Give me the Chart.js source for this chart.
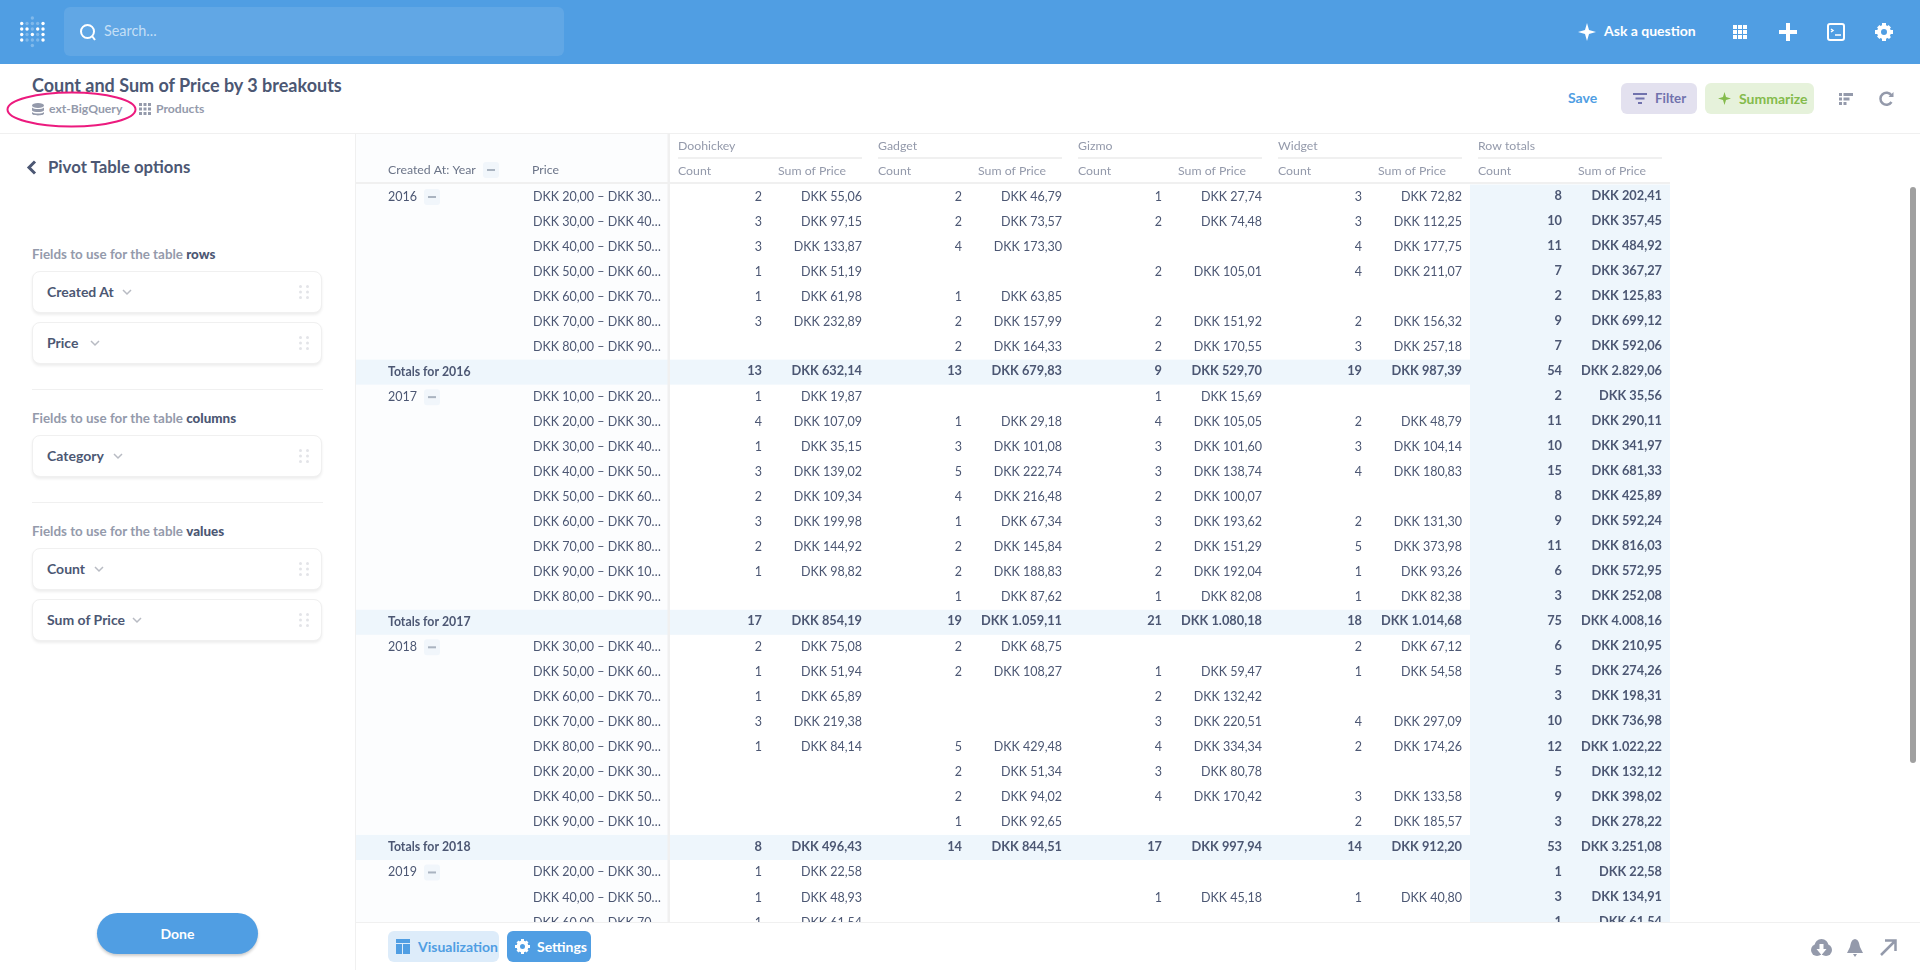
<!DOCTYPE html>
<html>
<head>
<meta charset="utf-8"/>
<title>Count and Sum of Price by 3 breakouts</title>
<script src="https://cdn.jsdelivr.net/npm/chart.js@4"></script>
<style>
  html,body{margin:0;width:1920px;height:970px;overflow:hidden;background:#fff;font-family:Lato,sans-serif;color:#4C5773}
  .a{position:absolute;white-space:nowrap}
  .line{position:absolute;background:#F0F0F0}
  .card{position:absolute;left:32px;width:290px;height:42px;box-sizing:border-box;background:#fff;border:1px solid #F0F0F0;border-radius:8px;box-shadow:0 2px 3px rgba(0,0,0,.07)}
  .card b{position:absolute;left:14px;top:0;line-height:40px;font-size:14px;font-weight:700}
  .lbl{left:32px;font-size:13.4px;font-weight:700;color:#949AAB;line-height:18px}
  .lbl b{color:#4C5773}
  .btn{position:absolute;border-radius:6px;line-height:31px;font-size:14px;font-weight:700}
  svg{position:absolute;overflow:visible}
</style>
</head>
<body>
<div class="a" style="left:0;top:0;width:1920px;height:64px;background:#509EE3"></div>
<svg id="logo" style="left:0;top:0" width="64" height="64"></svg>
<div class="a" style="left:64px;top:7px;width:500px;height:49px;background:#61A7E5;border-radius:6px"></div>
<svg style="left:80px;top:24px" width="16" height="18" fill="none" stroke="#fff" stroke-width="2"><circle cx="7.5" cy="7.5" r="6.5"/><path d="M12 12l3 4"/></svg>
<div class="a" style="left:104px;top:22px;font-size:14.4px;line-height:18px;font-weight:400;color:#C4DFF6">Search...</div>
<svg style="left:1578px;top:23px" width="18" height="18" fill="#fff"><path d="M9 0l2 7 7 2-7 2-2 7-2-7-7-2 7-2z"/></svg>
<div class="a" style="left:1604px;top:22px;font-size:14px;line-height:18px;font-weight:700;color:#fff">Ask a question</div>
<svg style="left:1733px;top:25px" width="14" height="14" fill="#fff"><path d="M0 0h4v4H0zM5 0h4v4H5zM10 0h4v4h-4zM0 5h4v4H0zM5 5h4v4H5zM10 5h4v4h-4zM0 10h4v4H0zM5 10h4v4h-4zM10 10h4v4h-4z"/></svg>
<svg style="left:1779px;top:23px" width="18" height="18" fill="#fff"><path d="M7 0h4v7h7v4h-7v7H7v-7H0V7h7z"/></svg>
<svg style="left:1827px;top:23px" width="18" height="18" fill="none" stroke="#fff" stroke-width="2"><rect x="1" y="1" width="16" height="16" rx="2"/><path d="M4 6l2 1.5L4 9M8 12h6" stroke-width="1.5"/></svg>
<svg style="left:1875px;top:23px" width="18" height="18" fill="#fff"><circle cx="9" cy="9" r="5" fill="none" stroke="#fff" stroke-width="4"/><path d="M7 0h4v3H7zM7 15h4v3H7zM0 7h3v4H0zM15 7h3v4h-3zM2 4.500L4.500 2l2 2-2.500 2.500zM11.500 14l2-2.500 2.500 2.500-2 2zM2 13.500L4 11.500 6.500 14 4.500 16zM11.500 4l2-2 2.500 2.500-2 2z"/></svg>

<div class="a" style="left:32px;top:73px;font-size:18px;line-height:24px;font-weight:700" id="title">Count and Sum of Price by 3 breakouts</div>
<svg style="left:32px;top:103px" width="12" height="13" fill="#949AAB"><ellipse cx="6" cy="2.500" rx="6" ry="2.500"/><path d="M0 4.500c2 2 10 2 12 0v3c-2 2-10 2-12 0zM0 9c2 2 10 2 12 0v1.500c0 2.500-12 2.500-12 0z"/></svg>
<div class="a" style="left:49px;top:100px;font-size:12.2px;line-height:18px;font-weight:700;color:#949AAB">ext-BigQuery</div>
<svg style="left:139px;top:103px" width="12" height="12" fill="#949AAB"><path d="M0 0h3v3H0zM4.500 0h3v3h-3zM9 0h3v3H9zM0 4.500h3v3H0zM4.500 4.500h3v3h-3zM9 4.500h3v3H9zM0 9h3v3H0zM4.500 9h3v3h-3zM9 9h3v3H9z"/></svg>
<div class="a" style="left:156px;top:100px;font-size:12.2px;line-height:18px;font-weight:700;color:#949AAB">Products</div>
<svg style="left:0;top:0" width="200" height="140" fill="none"><ellipse cx="71.500" cy="109.500" rx="64" ry="17" stroke="#EC1A7E" stroke-width="2"/></svg>

<div class="a" style="left:1568px;top:89px;font-size:14px;line-height:18px;font-weight:700;color:#509EE3">Save</div>
<div class="btn" style="left:1621px;top:83px;width:76px;height:31px;background:#E3E1EF;color:#7172AD;font-size:13.3px"><span class="a" style="left:34px">Filter</span></div>
<svg style="left:1633px;top:93px" width="14" height="11" fill="#7172AD"><path d="M0 0h14v2H0zM2.500 4.500h9v2h-9zM5 9h4v2H5z"/></svg>
<div class="btn" style="left:1705px;top:83px;width:109px;height:31px;background:#E6F2DB;color:#84BB4C"><span class="a" style="left:34px">Summarize</span></div>
<svg style="left:1718px;top:92px" width="13" height="13" fill="#84BB4C"><path d="M6.500 0l1.500 5 5 1.500-5 1.500-1.500 5-1.500-5-5-1.500 5-1.500z"/></svg>
<svg style="left:1839px;top:93px" width="14" height="12" fill="#949AAB"><path d="M0 0h3v3H0zM0 4.500h3v3H0zM0 9h3v3H0zM4.500 0h9.500v3H4.500zM4.500 4.500h6v3h-6zM4.500 9h3v3h-3z"/></svg>
<svg style="left:1879px;top:91px" width="15" height="15" fill="none" stroke="#949AAB" stroke-width="2.500"><path d="M12.500 11a6 6 0 1 1 0-6.500"/><path d="M14.500 1v5h-5" fill="#949AAB" stroke="none"/></svg>
<div class="line" style="left:0;top:133px;width:1920px;height:1px"></div>

<!-- sidebar -->
<div class="line" style="left:355px;top:134px;width:1px;height:836px"></div>
<svg style="left:27px;top:160px" width="10" height="15" fill="none" stroke="#4C5773" stroke-width="3"><path d="M8 1.500L2 7.500l6 6"/></svg>
<div class="a" style="left:48px;top:157px;font-size:16.8px;line-height:20px;font-weight:700">Pivot Table options</div>
<div class="a lbl" style="top:245px">Fields to use for the table <b>rows</b></div>
<div class="card" style="top:271px"><b>Created At</b></div>
<div class="card" style="top:322px"><b>Price</b></div>
<div class="line" style="left:32px;top:389px;width:291px;height:1px"></div>
<div class="a lbl" style="top:409px">Fields to use for the table <b>columns</b></div>
<div class="card" style="top:435px"><b>Category</b></div>
<div class="line" style="left:32px;top:502px;width:291px;height:1px"></div>
<div class="a lbl" style="top:522px">Fields to use for the table <b>values</b></div>
<div class="card" style="top:548px"><b>Count</b></div>
<div class="card" style="top:599px"><b>Sum of Price</b></div>
<div id="chrome-icons"></div>
<div class="a" style="left:97px;top:913px;width:161px;height:41px;border-radius:21px;background:#509EE3;color:#fff;text-align:center;line-height:41px;font-size:14px;font-weight:700;box-shadow:0 2px 3px rgba(0,0,0,.2)">Done</div>

<!-- table -->
<div class="a" style="left:356px;top:134px;width:1550px;height:788px;overflow:hidden"><canvas id="pivot" width="1314" height="801" style="display:block;width:1314px;height:801px"></canvas></div>
<div class="a" style="left:1910px;top:187px;width:6px;height:576px;border-radius:3px;background:#A0A0A0"></div>

<!-- footer -->
<div class="line" style="left:356px;top:922px;width:1564px;height:1px"></div>
<div class="btn" style="left:388px;top:931px;width:111px;height:31px;background:#DDECFA;color:#509EE3"><span class="a" style="left:30px">Visualization</span></div>
<svg style="left:396px;top:939px" width="14" height="15" fill="#509EE3"><path d="M0 0h14v4H0zM0 5h6v10H0zM7 5h7v10H7z"/></svg>
<div class="btn" style="left:507px;top:931px;width:84px;height:31px;background:#509EE3;color:#fff"><span class="a" style="left:30px">Settings</span></div>
<svg style="left:515px;top:939px" width="15" height="15" fill="#fff"><circle cx="7.500" cy="7.500" r="4.200" fill="none" stroke="#fff" stroke-width="3.400"/><path d="M6 0h3v3H6zM6 12h3v3H6zM0 6h3v3H0zM12 6h3v3h-3zM1.500 3.500L3.500 1.500l2 2-2 2zM9.500 11.500l2-2 2 2-2 2zM1.500 11.500L3.500 9.500l2 2-2 2zM9.500 3.500l2-2 2 2-2 2z"/></svg>
<svg style="left:1811px;top:939px" width="21" height="19" fill="#949AAB"><circle cx="6" cy="11" r="6"/><circle cx="15" cy="11" r="6"/><circle cx="10.500" cy="7" r="7"/><path d="M8.500 5h4v5h3l-5 6-5-6h3z" fill="#fff"/></svg>
<svg style="left:1847px;top:939px" width="16" height="18" fill="#949AAB"><path d="M8 0c4 1 4 4 5 8l3 6H0l3-6c1-4 1-7 5-8zM6 15h4l-2 3z"/></svg>
<svg style="left:1880px;top:939px" width="17" height="17" fill="none" stroke="#949AAB" stroke-width="2.500"><path d="M1 16L15.500 1.500M5 1.500h10.500V12"/></svg>

<script>
const categories = ['Doohickey', 'Gadget', 'Gizmo', 'Widget', 'Row totals'];
const measures   = ['Count', 'Sum of Price'];

const rowGroups = ['2016','','','','','','','Totals for 2016',
  '2017','','','','','','','','','Totals for 2017',
  '2018','','','','','','','','Totals for 2018',
  '2019','',''];
const priceRanges = [
  'DKK 20,00 – DKK 30…','DKK 30,00 – DKK 40…','DKK 40,00 – DKK 50…','DKK 50,00 – DKK 60…','DKK 60,00 – DKK 70…','DKK 70,00 – DKK 80…','DKK 80,00 – DKK 90…','',
  'DKK 10,00 – DKK 20…','DKK 20,00 – DKK 30…','DKK 30,00 – DKK 40…','DKK 40,00 – DKK 50…','DKK 50,00 – DKK 60…','DKK 60,00 – DKK 70…','DKK 70,00 – DKK 80…','DKK 90,00 – DKK 10…','DKK 80,00 – DKK 90…','',
  'DKK 30,00 – DKK 40…','DKK 50,00 – DKK 60…','DKK 60,00 – DKK 70…','DKK 70,00 – DKK 80…','DKK 80,00 – DKK 90…','DKK 20,00 – DKK 30…','DKK 40,00 – DKK 50…','DKK 90,00 – DKK 10…','',
  'DKK 20,00 – DKK 30…','DKK 40,00 – DKK 50…','DKK 60,00 – DKK 70…'];

const _ = null;
const doohickeyCount = [2,3,3,1,1,3,_,13, 1,4,1,3,2,3,2,1,_,17, 2,1,1,3,1,_,_,_,8, 1,1,1];
const doohickeySum   = [55.06,97.15,133.87,51.19,61.98,232.89,_,632.14, 19.87,107.09,35.15,139.02,109.34,199.98,144.92,98.82,_,854.19, 75.08,51.94,65.89,219.38,84.14,_,_,_,496.43, 22.58,48.93,61.54];
const gadgetCount    = [2,2,4,_,1,2,2,13, _,1,3,5,4,1,2,2,1,19, 2,2,_,_,5,2,2,1,14, _,_,_];
const gadgetSum      = [46.79,73.57,173.30,_,63.85,157.99,164.33,679.83, _,29.18,101.08,222.74,216.48,67.34,145.84,188.83,87.62,1059.11, 68.75,108.27,_,_,429.48,51.34,94.02,92.65,844.51, _,_,_];
const gizmoCount     = [1,2,_,2,_,2,2,9, 1,4,3,3,2,3,2,2,1,21, _,1,2,3,4,3,4,_,17, _,1,_];
const gizmoSum       = [27.74,74.48,_,105.01,_,151.92,170.55,529.70, 15.69,105.05,101.60,138.74,100.07,193.62,151.29,192.04,82.08,1080.18, _,59.47,132.42,220.51,334.34,80.78,170.42,_,997.94, _,45.18,_];
const widgetCount    = [3,3,4,4,_,2,3,19, _,2,3,4,_,2,5,1,1,18, 2,1,_,4,2,_,3,2,14, _,1,_];
const widgetSum      = [72.82,112.25,177.75,211.07,_,156.32,257.18,987.39, _,48.79,104.14,180.83,_,131.30,373.98,93.26,82.38,1014.68, 67.12,54.58,_,297.09,174.26,_,133.58,185.57,912.20, _,40.80,_];
const totalCount     = [8,10,11,7,2,9,7,54, 2,11,10,15,8,9,11,6,3,75, 6,5,3,10,12,5,9,3,53, 1,3,1];
const totalSum       = [202.41,357.45,484.92,367.27,125.83,699.12,592.06,2829.06, 35.56,290.11,341.97,681.33,425.89,592.24,816.03,572.95,252.08,4008.16, 210.95,274.26,198.31,736.98,1022.22,132.12,398.02,278.22,3251.08, 22.58,134.91,61.54];

const columns = [doohickeyCount,doohickeySum,gadgetCount,gadgetSum,gizmoCount,gizmoSum,widgetCount,widgetSum,totalCount,totalSum];

const DARK = '#4C5773', MUTED = '#949AAB', BAND = '#EEF6FC';
const regular = { family:'Lato', size:12.5, weight:'400' };
const bold    = { family:'Lato', size:12.8, weight:'700' };
const header  = { family:'Lato', size:12.3, weight:'400' };

const isTotal = r => rowGroups[r].startsWith('Totals');
const columnKeys = categories.flatMap(c => measures.map(m => `${c}|${m}`));
const rowKeys = rowGroups.map((g,i) => `${i}|${g}|${priceRanges[i]}`);

// 1234.5 -> DKK 1.234,50
const money = v => {
  const [a,b] = v.toFixed(2).split('.');
  return `DKK ${a.replace(/\B(?=(\d{3})+$)/g,'.')},${b}`;
};

function fitAxis(width, height) {
  return s => {
    if (width) s.width = width;
    if (height) s.height = height;
    s.paddingLeft = s.paddingRight = s.paddingTop = s.paddingBottom = 0;
  };
}

const tablePlugin = {
  id: 'pivotTable',
  beforeDraw(chart) {
    const { ctx, chartArea: a, scales: { y } } = chart;
    ctx.save();
    ctx.fillStyle = '#FCFDFE';
    ctx.fillRect(0, 0, a.left, chart.height);
    const rowH = y.getPixelForTick(1) - y.getPixelForTick(0);
    const totalsLeft = chart.scales.x.getPixelForTick(8) - 50;
    ctx.fillStyle = BAND;
    rowKeys.forEach((k,i) => {
      if (isTotal(i)) ctx.fillRect(0, y.getPixelForTick(i) - rowH/2, totalsLeft, rowH);
    });
    ctx.fillRect(totalsLeft, a.top, a.right - totalsLeft, a.bottom - a.top);
    // header rule and the divider next to the row headers
    ctx.fillStyle = '#F0F0F0';
    ctx.fillRect(0, a.top - 2.5, a.right, 2);
    ctx.fillRect(a.left - 2.5, 0, 2.5, chart.height);
    categories.forEach((c,i) => {
      const left = chart.scales.x.getPixelForTick(i*2) - 42;
      ctx.fillRect(left, 23, 184, 2);
    });
    ctx.restore();
  },
  afterDatasetsDraw(chart) {
    const { ctx, scales: { y2 } } = chart;
    ctx.save();
    ctx.textBaseline = 'middle';
    chart.data.datasets.forEach((ds,di) => {
      const isSum = di % 2 === 1;
      chart.getDatasetMeta(di).data.forEach((pt,i) => {
        const { raw } = ds.data[i];
        const strong = di >= 8 || isTotal(ds.data[i].row);
        ctx.font = `${strong ? bold.weight : regular.weight} ${strong ? bold.size : regular.size}px Lato`;
        ctx.fillStyle = DARK;
        ctx.textAlign = 'right';
        ctx.fillText(isSum ? money(raw) : String(raw), pt.x + 42, pt.y - (strong ? 1 : 0));
      });
    });
    // row header titles
    ctx.textAlign = 'left';
    ctx.font = `400 ${header.size}px Lato`;
    ctx.fillStyle = '#6B7488';
    ctx.fillText('Created At: Year', 32, 36);
    ctx.fillText('Price', 176, 36);
    // collapse buttons
    const minus = (x, yc) => {
      ctx.fillStyle = '#F1F6FB';
      ctx.beginPath(); ctx.roundRect(x, yc - 8, 16, 16, 3); ctx.fill();
      ctx.fillStyle = '#A9B3C0';
      ctx.fillRect(x + 4, yc - 1, 8, 2);
    };
    minus(127, 36);
    rowGroups.forEach((g,i) => {
      if (g && !isTotal(i)) minus(68, y2.getPixelForTick(i));
    });
    ctx.restore();
  },
};

const datasets = columns.map((vals,c) => ({
  label: columnKeys[c],
  pointRadius: 0,
  data: vals.map((v,r) => v === null ? null : { x: columnKeys[c], y: rowKeys[r], raw: v, row: r }).filter(Boolean),
}));

new Chart(document.getElementById('pivot'), {
  type: 'scatter',
  data: { datasets },
  plugins: [tablePlugin],
  options: {
    responsive: false,
    animation: false,
    devicePixelRatio: 1,
    layout: { padding: { left: 32, top: 0, right: 0, bottom: 0 } },
    plugins: { legend: { display: false }, tooltip: { enabled: false } },
    scales: {
      x: {
        type: 'category', position: 'top', labels: columnKeys, offset: true, weight: 0,
        grid: { display: false, drawTicks: false }, border: { display: false },
        afterFit: fitAxis(0, 26),
        ticks: {
          autoSkip: false, maxRotation: 0, minRotation: 0, align: 'start', labelOffset: -42, padding: 6,
          color: MUTED, font: header,
          callback(v) { return measures[v % 2]; },
        },
      },
      x2: {
        type: 'category', position: 'top', labels: categories, offset: true, weight: 1,
        grid: { display: false, drawTicks: false }, border: { display: false },
        afterFit: fitAxis(0, 24.5),
        ticks: {
          autoSkip: false, maxRotation: 0, minRotation: 0, align: 'start', labelOffset: -92, padding: 5,
          color: MUTED, font: header,
        },
      },
      y: {
        type: 'category', position: 'left', labels: rowKeys, offset: true, weight: 0,
        grid: { display: false, drawTicks: false }, border: { display: false },
        afterFit: fitAxis(137, 0),
        ticks: {
          autoSkip: false, crossAlign: 'far', padding: 0, color: DARK, font: regular,
          callback(v) { return priceRanges[v]; },
        },
      },
      y2: {
        type: 'category', position: 'left', labels: rowKeys, offset: true, weight: 1,
        grid: { display: false, drawTicks: false }, border: { display: false },
        afterFit: fitAxis(145, 0),
        ticks: {
          autoSkip: false, crossAlign: 'far', padding: 0, color: DARK,
          font: ctx => isTotal(ctx.index) ? { ...bold, size: 12.3 } : regular,
          callback(v) { return rowGroups[v]; },
        },
      },
    },
  },
});

// dots and chevrons on the field cards
const cardRows = [[271,'Created At',112],[322,'Price',80],[435,'Category',103],[548,'Count',84],[599,'Sum of Price',122]];
document.getElementById('chrome-icons').innerHTML = cardRows.map(([top,,chev]) => `
  <svg style="left:${chev+10}px;top:${top+18}px" width="10" height="7" fill="none" stroke="#B8BBC3" stroke-width="1.500"><path d="M1 1l4 4 4-4"/></svg>
  <svg style="left:299px;top:${top+14}px" width="8" height="14" fill="#E3E4E8">${[0,1,2].flatMap(r=>[0,1].map(c=>`<circle cx="${c*7+1.5}" cy="${r*5.500+1.5}" r="1.500"/>`)).join('')}</svg>`).join('');

// logo dots, 2 = bright, 1 = faint
const logoRows = [[0,0,1,0,0],[2,1,1,1,2],[2,2,1,2,2],[2,1,2,1,2],[2,1,1,1,2],[0,0,1,0,0]];
document.getElementById('logo').innerHTML = logoRows.flatMap((row,r) => row.map((on,c) => !on ? '' :
  `<circle cx="${21.7+c*5.33}" cy="${18+r*5.500}" r="1.700" fill="#fff" opacity="${on === 2 ? 1 : .28}"/>`)).join('');
</script>
</body>
</html>
